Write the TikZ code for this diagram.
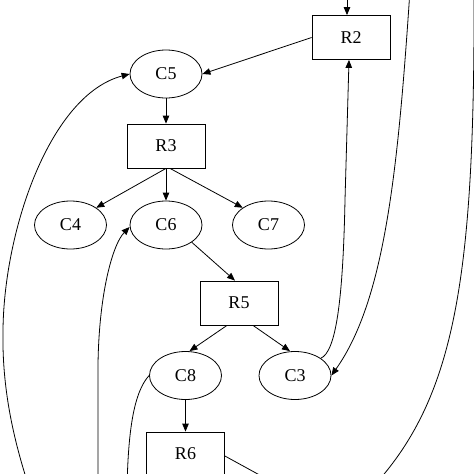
\documentclass[tikz,border=0pt]{standalone}
\usepackage{fontspec}
\setmainfont{Liberation Serif}
\usepackage{tikz}
\usetikzlibrary{shapes.geometric,arrows.meta}

\tikzset{
  cnode/.style={draw, ellipse, minimum width=72pt, minimum height=48pt, inner sep=0pt, font=\fontsize{18}{21}\selectfont},
  rnode/.style={draw, rectangle, minimum width=78pt, minimum height=44pt, inner sep=0pt, font=\fontsize{18}{21}\selectfont},
}

\begin{document}
\begin{tikzpicture}[x=1pt, y=-1pt, line width=0.8pt, >={Triangle[length=8pt,width=6.5pt]}]
\useasboundingbox (0,0) rectangle (474,474);
\clip (0,0) rectangle (474,474);

\node[rnode] (R2) at (351,37.5) {R2};
\node[cnode] (C5) at (166,74) {C5};
\node[rnode] (R3) at (166,146) {R3};
\node[cnode] (C4) at (70.5,225) {C4};
\node[cnode] (C6) at (166,225) {C6};
\node[cnode] (C7) at (268.5,225) {C7};
\node[rnode] (R5) at (239,303) {R5};
\node[cnode] (C8) at (185.5,375.5) {C8};
\node[cnode] (C3) at (295,375.5) {C3};
\node[rnode] (R6) at (185.5,454) {R6};

% loose ends outside the frame
\coordinate (r2in) at (347,-10);
\coordinate (c3in) at (410,-10);
\coordinate (rtop) at (474,-10);
\coordinate (rbot) at (370,490);
\coordinate (lbot) at (30,490);
\coordinate (c6in) at (98,490);
\coordinate (c8out) at (127,490);
\coordinate (r6out) at (276,484);

\draw[->] (r2in) -- (r2in |- R2.north);
\draw[->] (R2.west) -- (C5.east);
\draw[->] (C5) -- (R3);
\draw[->] (R3.south) -- (C4.north east);
\draw[->] (R3) -- (C6);
\draw[->] ([xshift=4pt]R3.south) -- (C7.north west);
\draw[->] (C6.south east) -- ([xshift=-4pt]R5.north);
\draw[->] ([xshift=-12pt]R5.south) -- ([xshift=4pt]C8.north);
\draw[->] ([xshift=14pt]R5.south) -- ([xshift=-5pt]C3.north);
\draw[->] (C8) -- (R6);
\draw ([yshift=-2pt]R6.east) -- (r6out);

\draw[->] (C3.north east) .. controls (336,352) and (343,300) .. (345,200) -- ([xshift=-2pt]R2.south);
\draw[->] (c3in) .. controls (398,170) and (385,300) .. (C3.east);
\draw (rtop) .. controls (475,280) and (455,400) .. (rbot);
\draw[->] (lbot) .. controls (10,430) and (2,380) .. (3,330) .. controls (4,230) and (50,95) .. (C5.west);
\draw[->] (c6in) -- (98,380) .. controls (97,300) and (112,245) .. ([yshift=-2pt]C6.west);
\draw (C8.west) .. controls (134,392) and (128,430) .. (c8out);

\end{tikzpicture}
\end{document}
